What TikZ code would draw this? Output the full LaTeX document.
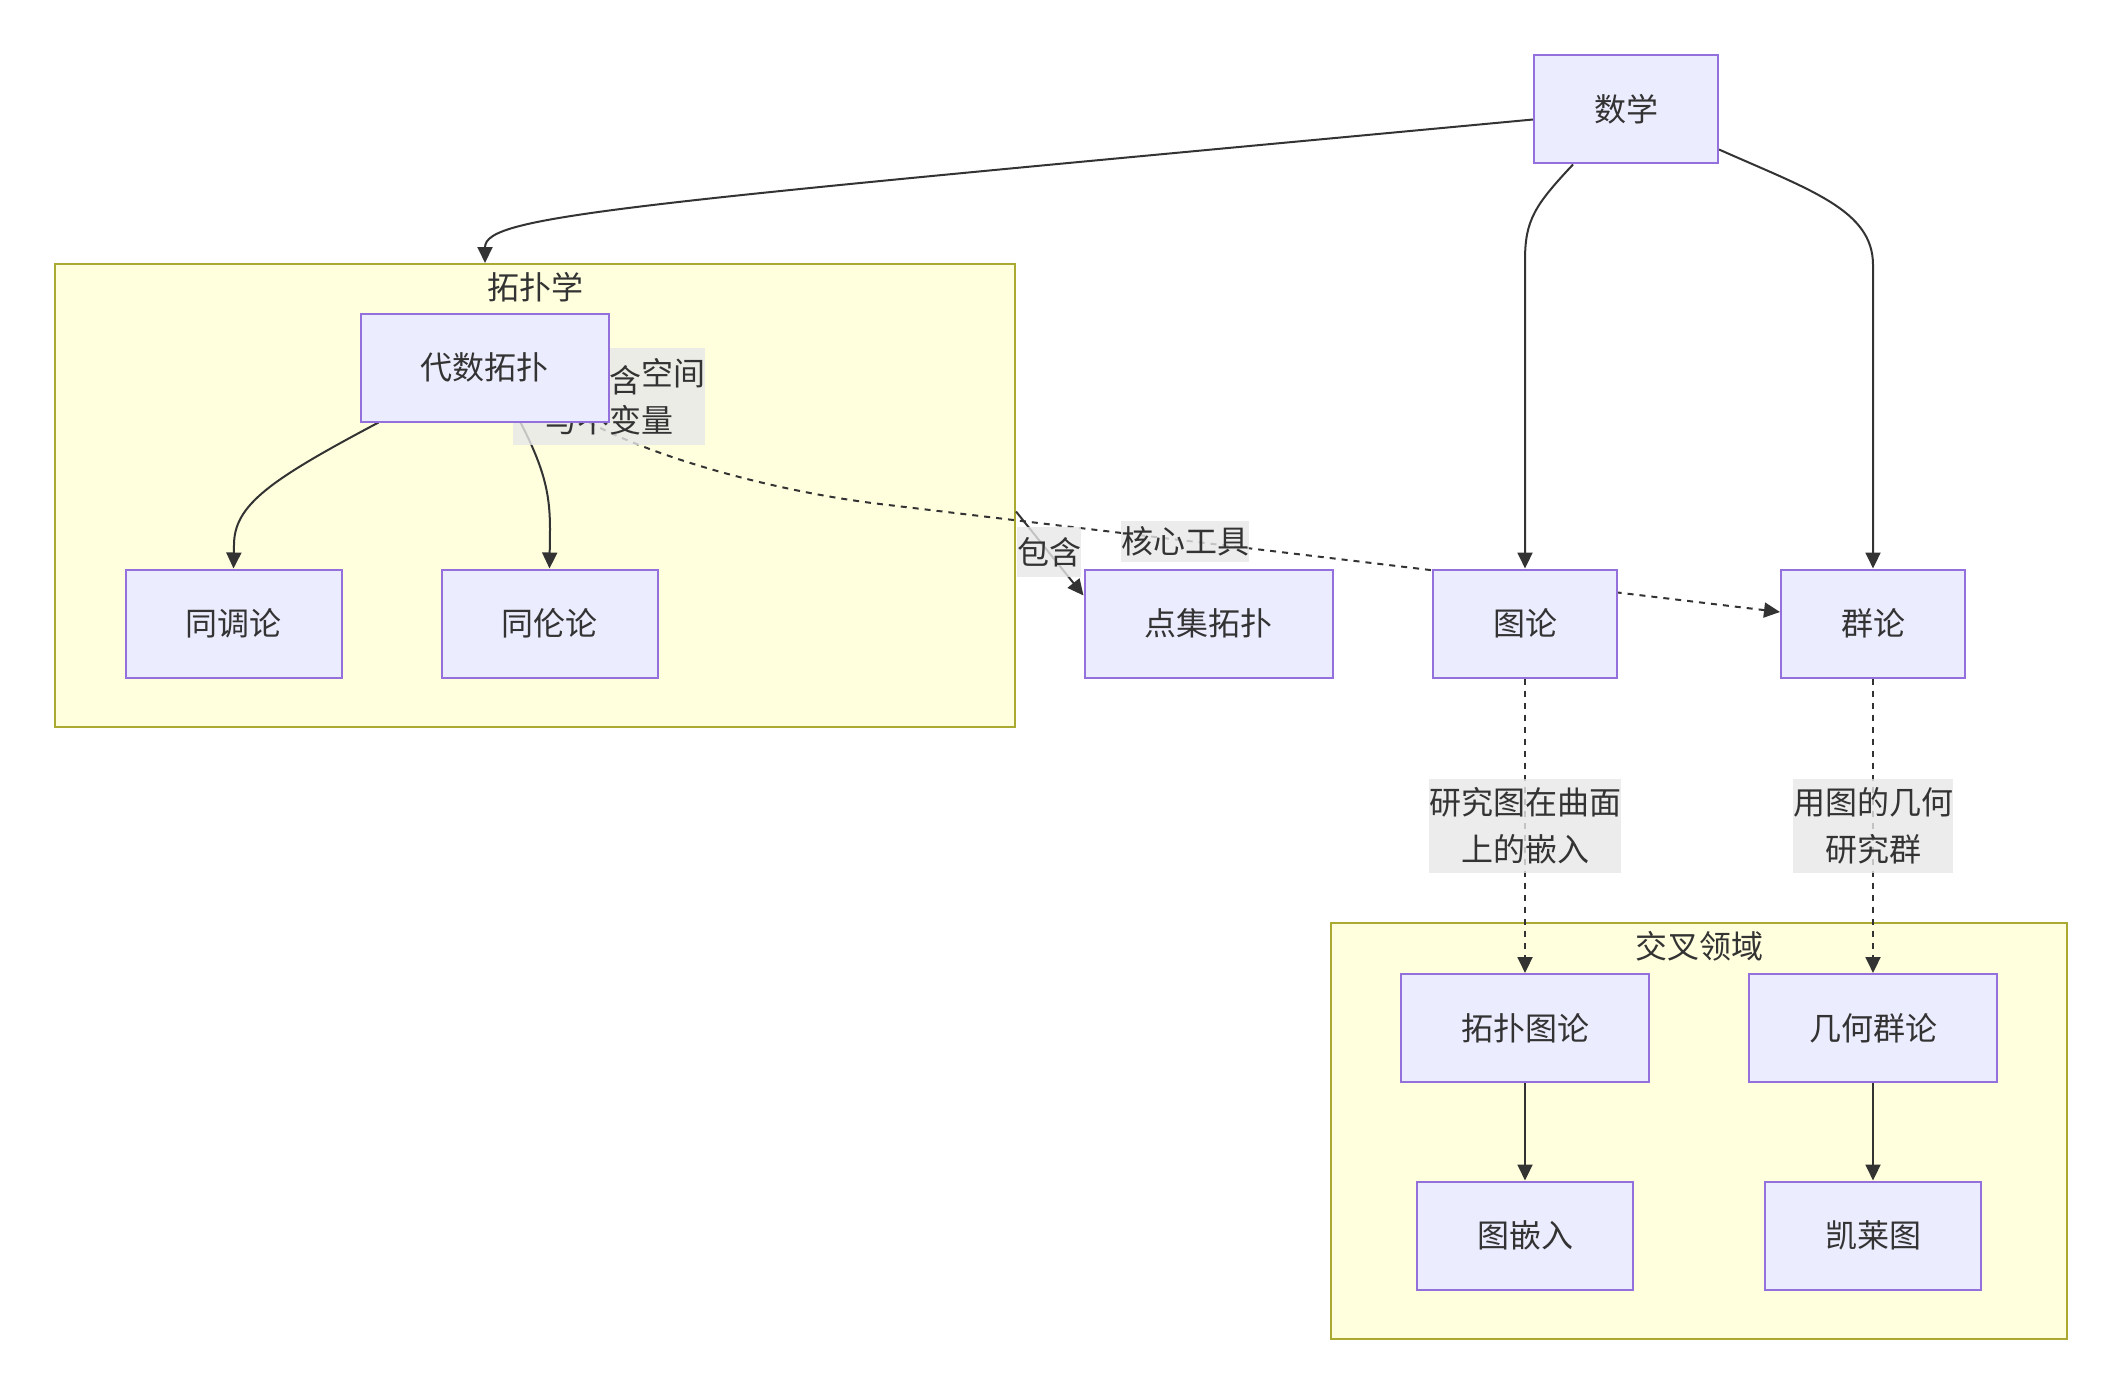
\documentclass[tikz,border=0pt]{standalone}
\usepackage{fontspec}
\setmainfont{Noto Sans CJK SC}
\usetikzlibrary{arrows.meta,calc}
\definecolor{nodefill}{HTML}{ECECFF}
\definecolor{nodeline}{HTML}{9370DB}
\definecolor{clusterfill}{HTML}{FFFFDE}
\definecolor{clusterline}{HTML}{AAAA33}
\definecolor{inkgray}{HTML}{333333}
\definecolor{labelgray}{HTML}{E8E8E8}
\pgfdeclarelayer{bg}
\pgfdeclarelayer{edges}
\pgfdeclarelayer{labels}
\pgfsetlayers{bg,edges,labels,main}
\begin{document}
\begin{tikzpicture}[x=0.5pt,y=-0.5pt,
  font=\fontsize{16pt}{23.7pt}\selectfont, text=inkgray,
  box/.style={draw=nodeline, fill=nodefill, line width=1pt, minimum height=54pt, inner sep=0pt},
  w2/.style={box, minimum width=92pt},
  w3/.style={box, minimum width=108pt},
  w4/.style={box, minimum width=124pt},
  cluster/.style={draw=clusterline, fill=clusterfill, line width=1pt, inner sep=0pt},
  edge/.style={draw=inkgray, line width=1pt, -{Triangle[length=8pt,width=7.5pt]}},
  dottededge/.style={edge, dash pattern=on 3pt off 3pt},
  elabel/.style={fill=labelgray, fill opacity=0.8, text opacity=1, inner sep=0pt, align=center},
]
\useasboundingbox (0,0) rectangle (2123,1396);

% canvas and subgraph frames
\begin{pgfonlayer}{bg}
\fill[white] (0,0) rectangle (2123,1396);
\node[cluster, minimum width=480pt, minimum height=231.5pt] (topo) at (535,495.5) {};
\node[cluster, minimum width=368pt, minimum height=208pt] (cross) at (1699,1131) {};
\end{pgfonlayer}
\node (topotitle) at (535,287) {拓扑学};
\node (crosstitle) at (1699,946) {交叉领域};

% nodes
\node[w2] (shuxue) at (1626,109.5) {数学};
\node[w4] (daishu) at (484.5,367.5) {代数拓扑};
\node[w3] (tongdiao) at (233.5,623.5) {同调论};
\node[w3] (tonglun) at (549.5,623.5) {同伦论};
\node[w4] (dianji) at (1208.5,623.5) {点集拓扑};
\node[w2] (tulun) at (1525,623.5) {图论};
\node[w2] (qunlun) at (1873,623.5) {群论};
\node[w4] (tptl) at (1525,1028) {拓扑图论};
\node[w4] (jhql) at (1873,1028) {几何群论};
\node[w3] (tqr) at (1525,1235.5) {图嵌入};
\node[w3] (klt) at (1873,1235.5) {凯莱图};

% connectors
\begin{pgfonlayer}{edges}
\draw[edge] ([yshift=-5pt]shuxue.west) .. controls (620,205) and (485,215) .. ([xshift=-25pt]topo.north);
\draw[edge] ([xshift=-26.5pt]shuxue.south) .. controls (1535,205) and (1525,220) .. (1525,260) -- (tulun.north);
\draw[edge] ([yshift=-20pt]shuxue.east) .. controls (1810,190) and (1873,210) .. (1873,265) -- (qunlun.north);
\draw[edge] ([xshift=-53pt]daishu.south) .. controls (270,480) and (234,505) .. (234,545) -- (tongdiao.north);
\draw[edge] ([xshift=18pt]daishu.south) .. controls (545,470) and (550,495) .. (550,530) -- (tonglun.north);
\draw[edge] ([yshift=-8pt]topo.east) -- ([yshift=14pt]dianji.west);
\draw[dottededge] ([xshift=-10pt]daishu.south east) .. controls (660,460) and (780,492) .. (880,504) -- ([yshift=5.75pt]qunlun.west);
\draw[dottededge] (tulun.south) -- (tptl.north);
\draw[dottededge] (qunlun.south) -- (jhql.north);
\draw[edge] (tptl.south) -- (tqr.north);
\draw[edge] (jhql.south) -- (klt.north);
\end{pgfonlayer}

% connector labels (the first two sit partly under 代数拓扑)
\begin{pgfonlayer}{labels}
\node[elabel, minimum width=96pt, minimum height=48.5pt] (lblspace) at (609,396.5) {\phantom{空间空间}空间\\与不变量};
\node[inner sep=0pt] (lblcontain) at (609,380) {\phantom{包}含};
\end{pgfonlayer}
\node[elabel, minimum width=30.5pt, minimum height=25pt] (lblbh) at (1049,552) {包含};
\node[elabel, minimum width=63.5pt, minimum height=20.5pt] (lblcore) at (1185,541.5) {核心工具};
\node[elabel, minimum width=95.5pt, minimum height=47pt] (lblembed) at (1525,826) {研究图在曲面\\上的嵌入};
\node[elabel, minimum width=79.5pt, minimum height=47pt] (lblgeom) at (1873,826) {用图的几何\\研究群};
\end{tikzpicture}
\end{document}
